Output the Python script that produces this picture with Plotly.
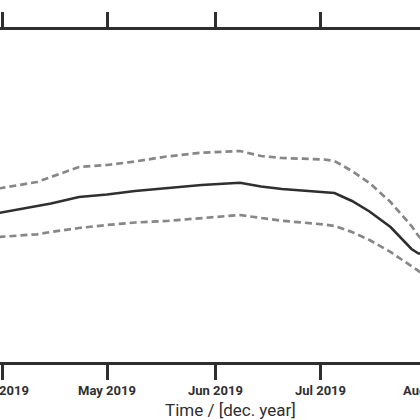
import plotly.graph_objects as go
import pandas as pd

dates = ["2019-03-31", "2019-04-11", "2019-04-15", "2019-04-23", "2019-05-01",
         "2019-05-09", "2019-05-18", "2019-05-28", "2019-06-08", "2019-06-14",
         "2019-06-20", "2019-07-02", "2019-07-05", "2019-07-10", "2019-07-15",
         "2019-07-21", "2019-07-27", "2019-07-29", "2019-08-01"]
mean_vals = [14.9, 15.55, 15.85, 16.5, 16.75, 17.1, 17.35, 17.7, 17.93, 17.55,
             17.3, 17.0, 16.9, 16.1, 15.05, 13.5, 11.3, 10.85, 10.9]
upper_vals = [17.35, 18.0, 18.5, 19.5, 19.7, 20.05, 20.55, 20.93, 21.1, 20.6,
              20.4, 20.25, 20.1, 19.1, 17.9, 16.0, 13.6, 12.6, 11.5]
lower_vals = [12.5, 12.77, 13.0, 13.4, 13.7, 13.95, 14.1, 14.37, 14.7, 14.4,
              14.13, 13.75, 13.6, 13.0, 12.2, 11.0, 9.6, 9.1, 8.4]
tick_vals = ["2019-04-01", "2019-05-01", "2019-06-01", "2019-07-01", "2019-08-01"]
tick_text = ["Apr 2019", "May 2019", "Jun 2019", "Jul 2019", "Aug 2019"]
x_title = "Time / [dec. year]"

dark = "#2f2f2f"
grey = "#878787"

fig = go.Figure()
fig.add_trace(go.Scatter(x=dates, y=upper_vals, mode="lines",
                         line=dict(color=grey, width=2.7, dash="7px,4px"),
                         showlegend=False))
fig.add_trace(go.Scatter(x=dates, y=lower_vals, mode="lines",
                         line=dict(color=grey, width=2.7, dash="7px,4px"),
                         showlegend=False))
fig.add_trace(go.Scatter(x=dates, y=mean_vals, mode="lines",
                         line=dict(color=dark, width=2.6),
                         showlegend=False))

px_per_day = 3.5
apr1 = pd.Timestamp("2019-04-01")
x0 = apr1 - pd.Timedelta(days=2 / px_per_day)
x1 = apr1 + pd.Timedelta(days=418 / px_per_day)

fig.update_layout(
    width=420, height=420,
    margin=dict(l=0, r=0, t=30, b=58, autoexpand=False),
    plot_bgcolor="white", paper_bgcolor="white",
    font=dict(family="Roboto", color=dark),
    xaxis=dict(
        range=[x0, x1], showline=True, linecolor=dark, linewidth=2.5,
        ticks="outside", ticklen=15, tickwidth=2.5, tickcolor=dark,
        mirror="allticks", showgrid=False, zeroline=False, automargin=False,
        tickvals=tick_vals[:4], ticktext=tick_text[:4],
        ticklabeloverflow="allow",
        tickfont=dict(family="Roboto", size=13, color=dark, weight="bold"),
    ),
    yaxis=dict(visible=False, range=[0, 33.2], automargin=False),
    annotations=[
        dict(text=x_title, xref="paper", yref="paper", x=230 / 420, y=-48 / 332,
             xanchor="center", yanchor="middle", showarrow=False,
             font=dict(family="Roboto", size=17, color=dark)),
        dict(text=tick_text[4], xref="paper", yref="paper", x=431 / 420, y=-28 / 332,
             xanchor="center", yanchor="middle", showarrow=False,
             font=dict(family="Roboto", size=13, color=dark, weight="bold")),
    ],
)

fig.write_html("out.html")
